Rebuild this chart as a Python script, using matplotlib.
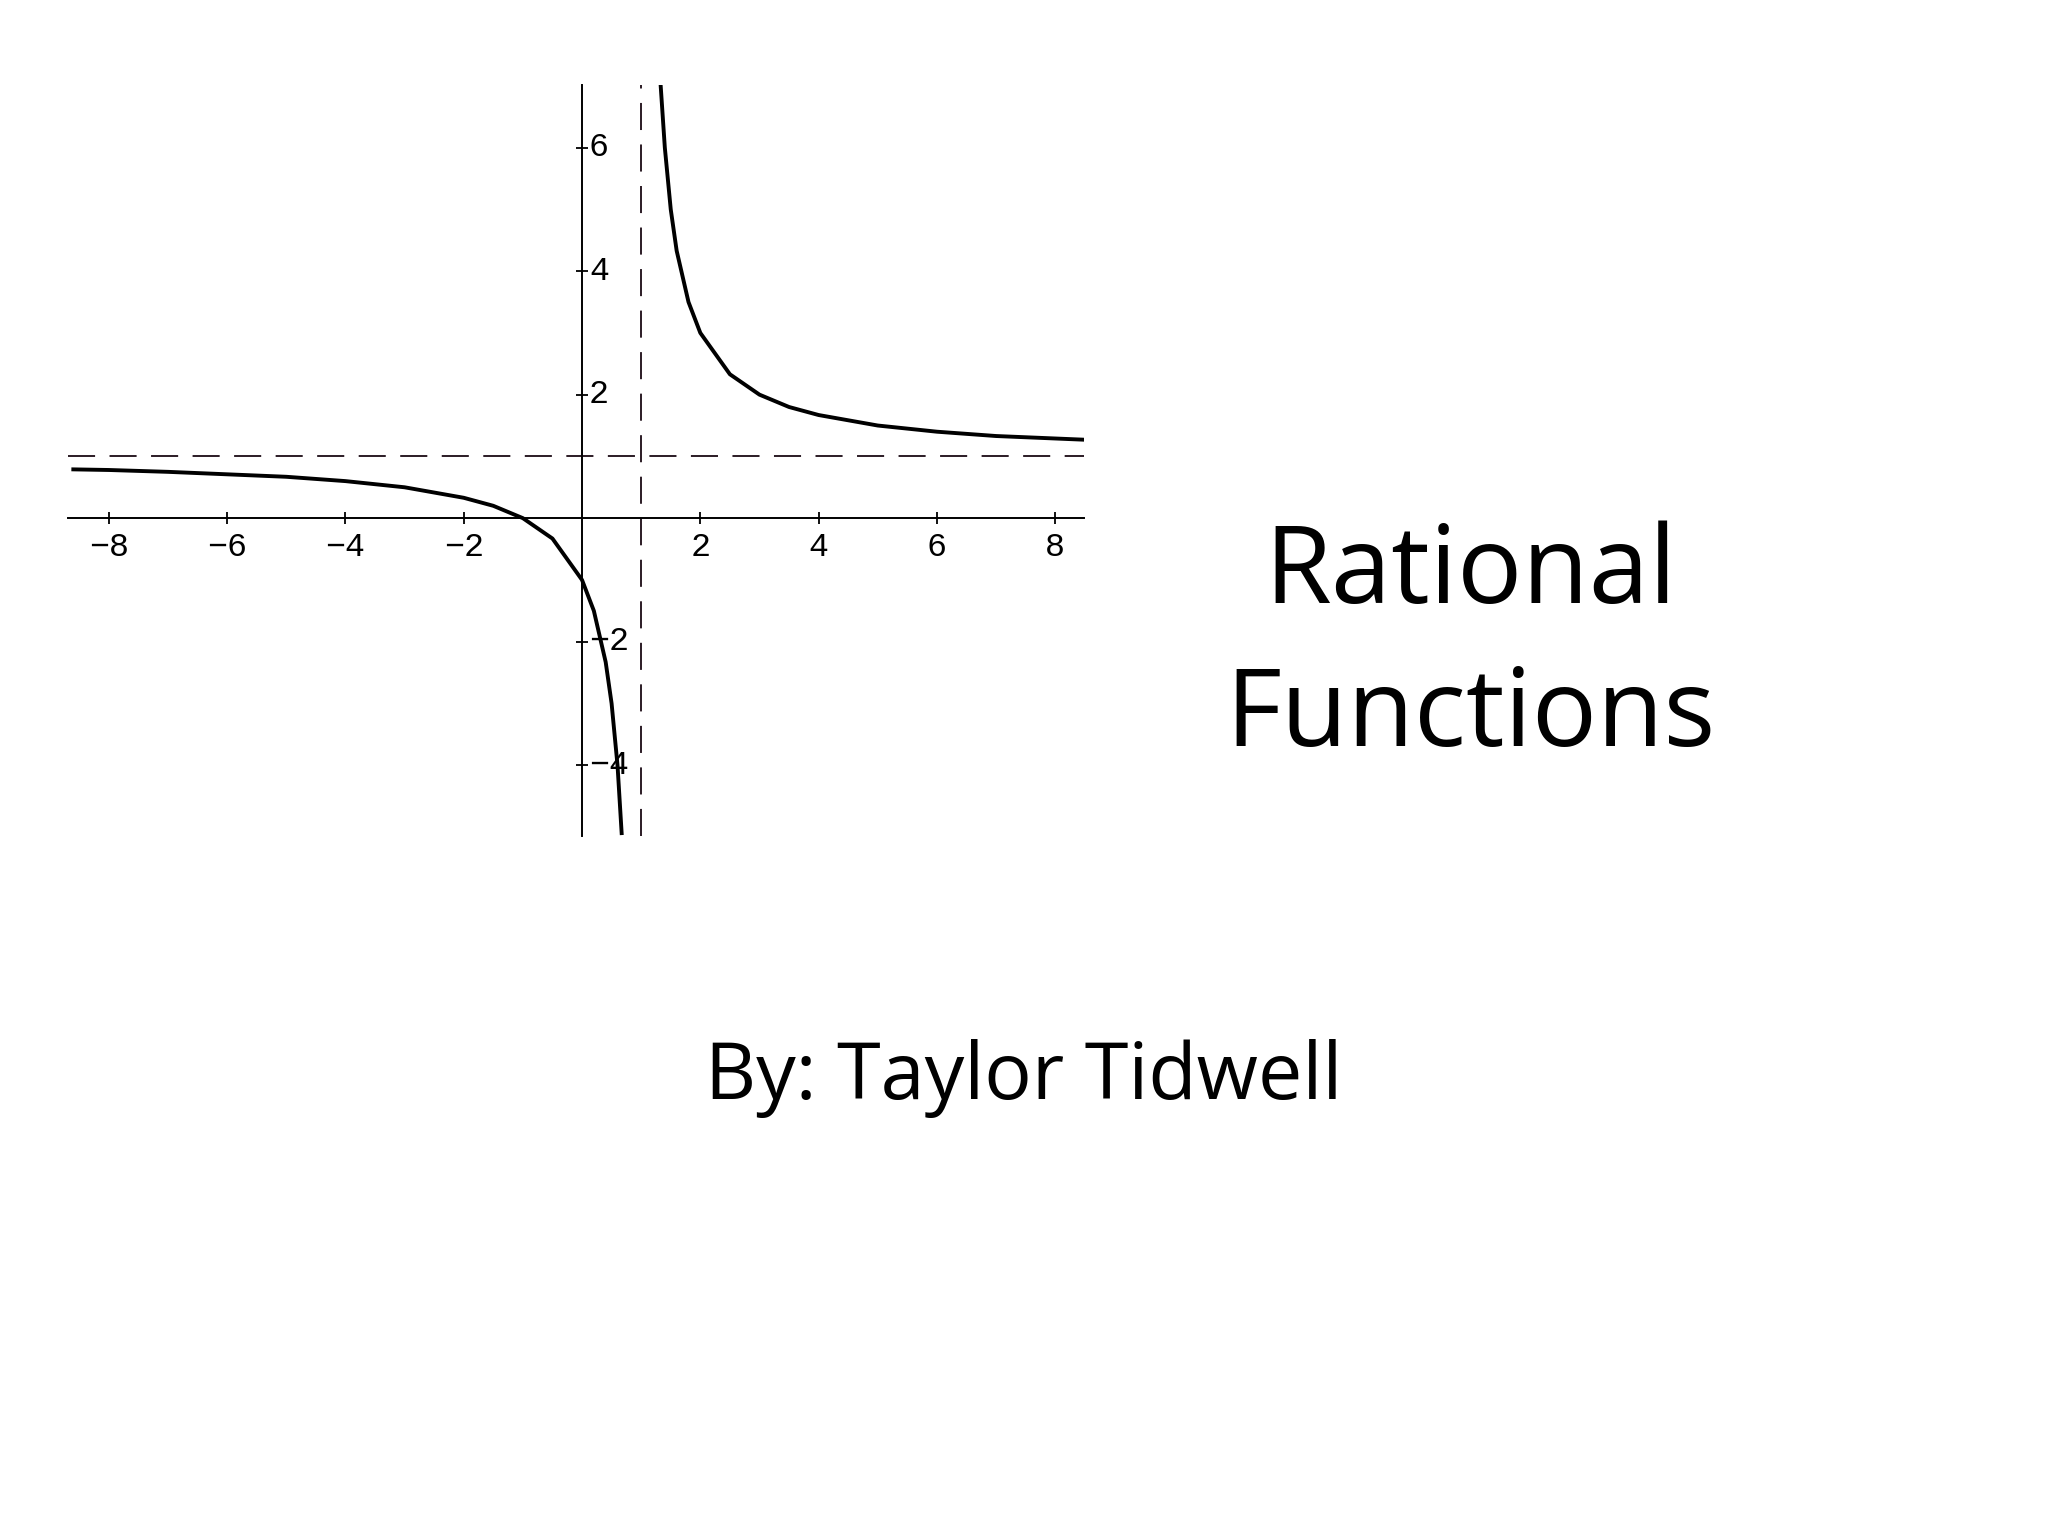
import matplotlib
matplotlib.use("Agg")
import matplotlib.pyplot as plt
from matplotlib.transforms import offset_copy

# points (left and right branches)
left_x = [-8.6, -8, -7, -6, -5, -4, -3, -2, -1.5, -1, -0.5, 0, 0.2, 0.4, 0.5, 0.6, 0.67]
left_y = [0.79, 0.78, 0.75, 0.71, 0.67, 0.6, 0.5, 0.33, 0.2, 0, -0.33, -1, -1.5, -2.33, -3, -4, -5.1]
right_x = [1.33, 1.4, 1.5, 1.6, 1.8, 2, 2.5, 3, 3.5, 4, 5, 6, 7, 8, 8.5]
right_y = [7, 6, 5, 4.33, 3.5, 3, 2.33, 2, 1.8, 1.67, 1.5, 1.4, 1.33, 1.29, 1.27]

x_ticks = [-8, -6, -4, -2, 2, 4, 6, 8]
y_ticks = [-4, -2, 2, 4, 6]
v_asym = 1
h_asym = 1

title = "Rational\nFunctions"
author = "By: Taylor Tidwell"

fig = plt.figure(figsize=(20.48, 15.36), dpi=100)
ax = fig.add_axes([0.0332, 0.456, 0.4962, 0.4889])

ax.plot(left_x, left_y, color="black", lw=2.8)
ax.plot(right_x, right_y, color="black", lw=2.8)
ax.axvline(v_asym, color="#1a0a14", lw=1.3, dashes=(15, 8))
ax.axhline(h_asym, color="#1a0a14", lw=1.3, dashes=(15, 8))

ax.set_xlim(-8.69, 8.49)
ax.set_ylim(-5.14, 7.02)

for s in ["top", "right"]:
    ax.spines[s].set_visible(False)
ax.spines["left"].set_position(("data", 0))
ax.spines["bottom"].set_position(("data", 0))
ax.spines["left"].set_linewidth(1.4)
ax.spines["bottom"].set_linewidth(1.4)

ax.set_xticks(x_ticks)
ax.set_yticks(y_ticks)
ax.tick_params(axis="both", direction="inout", length=8, width=1.3,
               labelbottom=False, labelleft=False)

# tick labels in a typewriter face, placed beside the ticks
below = offset_copy(ax.transData, fig=fig, x=0, y=-10, units="points")
right = offset_copy(ax.transData, fig=fig, x=5, y=0, units="points")
for t in x_ticks:
    fig.text(t, 0, str(t).replace("-", "\u2212"), transform=below,
             ha="center", va="top", family="Liberation Mono", fontsize=24)
for t in y_ticks:
    fig.text(0, t, str(t).replace("-", "\u2212"), transform=right,
             ha="left", va="center", family="Liberation Mono", fontsize=24)

fig.text(0.718, 0.579, title, ha="center", va="center", fontsize=78,
         family="Open Sans", linespacing=1.42)
fig.text(0.5, 0.298, author, ha="center", va="center", fontsize=57,
         family="Open Sans")

fig.savefig("out.png", dpi=100)
